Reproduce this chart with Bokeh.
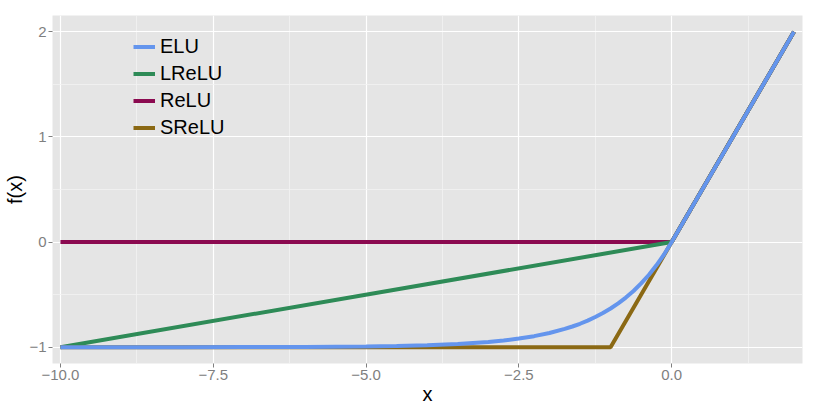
from bokeh.plotting import figure
from bokeh.models import FixedTicker, Range1d, Legend, LegendItem
from bokeh.embed import file_html
from bokeh.resources import INLINE

# ---- data ----
relu_x = [-10.0, 0.0, 2.0]
relu_y = [0.0, 0.0, 2.0]

lrelu_x = [-10.0, 0.0, 2.0]
lrelu_y = [-1.0, 0.0, 2.0]

srelu_x = [-10.0, -1.0, 0.0, 2.0]
srelu_y = [-1.0, -1.0, 0.0, 2.0]

elu_x = [-10.0, -9.0, -8.0, -7.0, -6.0, -5.0, -4.5, -4.0, -3.5, -3.0, -2.75, -2.5,
         -2.25, -2.0, -1.75, -1.625, -1.5, -1.375, -1.25, -1.125, -1.0, -0.875,
         -0.75, -0.625, -0.5, -0.375, -0.25, -0.125, 0.0, 1.0, 2.0]
elu_y = [-1.0, -1.0, -1.0, -0.999, -0.998, -0.993, -0.989, -0.982, -0.970, -0.950,
         -0.936, -0.918, -0.895, -0.865, -0.826, -0.803, -0.777, -0.747, -0.713,
         -0.675, -0.632, -0.583, -0.528, -0.465, -0.393, -0.313, -0.221, -0.118,
         0.0, 1.0, 2.0]

x_ticks = [-10.0, -7.5, -5.0, -2.5, 0.0]
x_tick_labels = ["\u221210.0", "\u22127.5", "\u22125.0", "\u22122.5", "0.0"]
x_minor = [-8.75, -6.25, -3.75, -1.25, 1.25]
y_ticks = [-1, 0, 1, 2]
y_tick_labels = ["\u22121", "0", "1", "2"]
y_minor = [-0.5, 0.5, 1.5]

series_names = ["ELU", "LReLU", "ReLU", "SReLU"]
series_colors = ["#6495ED", "#2E8B57", "#8B0A50", "#8B6914"]

FONT = "Liberation Sans"

p = figure(width=814, height=407, output_backend="svg", toolbar_location=None,
           x_range=Range1d(-10.13, 2.14), y_range=Range1d(-1.155, 2.155),
           min_border_left=52, min_border_right=12, min_border_top=15,
           min_border_bottom=44)

p.background_fill_color = "#E5E5E5"
p.border_fill_color = "white"
p.outline_line_color = None

# grids
p.xaxis.ticker = FixedTicker(ticks=x_ticks, minor_ticks=x_minor)
p.yaxis.ticker = FixedTicker(ticks=y_ticks, minor_ticks=y_minor)
p.xaxis.major_label_overrides = {t: l for t, l in zip(x_ticks, x_tick_labels)}
p.yaxis.major_label_overrides = {t: l for t, l in zip(y_ticks, y_tick_labels)}
for g in (p.xgrid, p.ygrid):
    g.grid_line_color = "white"
    g.grid_line_width = 1.2
    g.minor_grid_line_color = "#F2F2F2"
    g.minor_grid_line_width = 0.8

for ax in (p.xaxis, p.yaxis):
    ax.axis_line_color = None
    ax.major_tick_line_color = "#7F7F7F"
    ax.major_tick_out = 4
    ax.major_tick_in = 0
    ax.minor_tick_line_color = None
    ax.major_label_text_color = "#7F7F7F"
    ax.major_label_text_font = FONT
    ax.major_label_text_font_size = "15px"
    ax.major_label_standoff = 2
    ax.axis_label_text_font = FONT
    ax.axis_label_text_font_style = "normal"
    ax.axis_label_text_font_size = "20px"
    ax.axis_label_text_color = "black"
    ax.axis_label_standoff = 0

p.xaxis.axis_label = "x"
p.yaxis.axis_label = "f(x)"

# lines (drawn so that ELU ends on top)
r_relu = p.line(relu_x, relu_y, line_color=series_colors[2], line_width=4)
r_lrelu = p.line(lrelu_x, lrelu_y, line_color=series_colors[1], line_width=4)
r_srelu = p.line(srelu_x, srelu_y, line_color=series_colors[3], line_width=4)
r_elu = p.line(elu_x, elu_y, line_color=series_colors[0], line_width=4)

renderers = {"ELU": r_elu, "LReLU": r_lrelu, "ReLU": r_relu, "SReLU": r_srelu}
legend = Legend(items=[LegendItem(label=n, renderers=[renderers[n]]) for n in series_names],
                location=(81, 222))
legend.background_fill_alpha = 0
legend.border_line_alpha = 0
legend.padding = 0
legend.margin = 0
legend.spacing = 0
legend.glyph_width = 22
legend.glyph_height = 27
legend.label_height = 27
legend.label_standoff = 5
legend.label_text_font = FONT
legend.label_text_font_size = "20px"
legend.label_text_color = "black"
p.add_layout(legend, "center")

open("out.html", "w").write(file_html(p, INLINE))
